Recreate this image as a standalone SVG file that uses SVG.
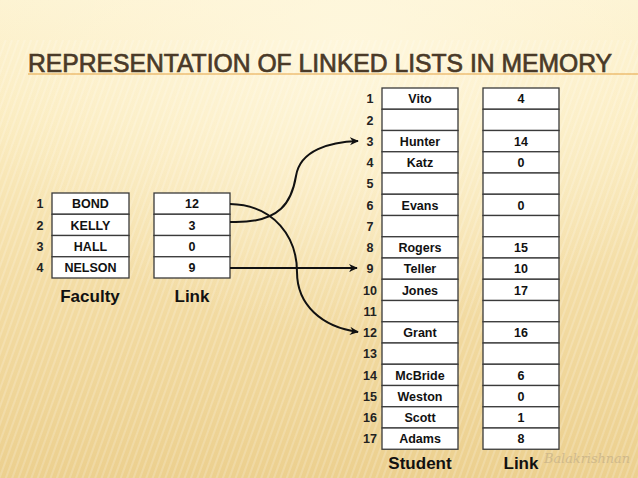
<svg xmlns="http://www.w3.org/2000/svg" width="638" height="478" viewBox="0 0 638 478">
<defs>
<linearGradient id="bg" x1="0" y1="0" x2="0" y2="1">
<stop offset="0" stop-color="#fdf3d2"/>
<stop offset="0.25" stop-color="#fbecc0"/>
<stop offset="0.6" stop-color="#f3dca4"/>
<stop offset="1" stop-color="#ecd08f"/>
</linearGradient>
<radialGradient id="glow" cx="0.55" cy="0.1" r="0.6">
<stop offset="0" stop-color="#fff8e0" stop-opacity="0.8"/>
<stop offset="1" stop-color="#fff8e0" stop-opacity="0"/>
</radialGradient>
<pattern id="stripes" width="6" height="6" patternUnits="userSpaceOnUse" patternTransform="rotate(20)">
<rect width="2" height="6" fill="#ffffff" opacity="0.18"/>
</pattern>
<marker id="arr" viewBox="0 0 10 10" refX="9" refY="5" markerWidth="9" markerHeight="9" orient="auto" markerUnits="userSpaceOnUse">
<path d="M0,0.5 L10,5 L0,9.5 L3,5 Z" fill="#111"/>
</marker>
<style>
.cell{fill:#fff;stroke:#3a3a3a;stroke-width:1.3}
.t{font-family:"Liberation Sans",Arial,sans-serif;font-weight:bold;font-size:12.5px;fill:#111;text-anchor:middle}
.n{font-family:"Liberation Sans",Arial,sans-serif;font-weight:bold;font-size:12.5px;fill:#222;text-anchor:middle}
.lbl{font-family:"Liberation Sans",Arial,sans-serif;font-weight:bold;font-size:17px;fill:#111;text-anchor:middle}
.con{fill:none;stroke:#111;stroke-width:2;marker-end:url(#arr)}
</style>
</defs>
<rect width="638" height="478" fill="url(#bg)"/>
<rect width="638" height="478" fill="url(#glow)"/>
<rect y="40" width="638" height="438" fill="url(#stripes)"/>
<line x1="28" y1="74" x2="638" y2="74" stroke="#e6a445" stroke-width="1.2"/>
<text x="28" y="72" font-family="'Liberation Sans',Arial,sans-serif" font-size="25" fill="#4a3a28" stroke="#4a3a28" stroke-width="0.7" textLength="584" lengthAdjust="spacingAndGlyphs">REPRESENTATION OF LINKED LISTS IN MEMORY</text>

<g id="faculty">
<rect class="cell" x="52" y="193" width="77" height="21.25"/>
<rect class="cell" x="52" y="214.25" width="77" height="21.25"/>
<rect class="cell" x="52" y="235.5" width="77" height="21.25"/>
<rect class="cell" x="52" y="256.75" width="77" height="21.25"/>
<text class="t" x="90.5" y="208.2">BOND</text>
<text class="t" x="90.5" y="229.5">KELLY</text>
<text class="t" x="90.5" y="250.7">HALL</text>
<text class="t" x="90.5" y="272">NELSON</text>
<text class="n" x="40" y="208.2">1</text>
<text class="n" x="40" y="229.5">2</text>
<text class="n" x="40" y="250.7">3</text>
<text class="n" x="40" y="272">4</text>
<text class="lbl" x="90" y="302">Faculty</text>
</g>

<g id="faculty-link">
<rect class="cell" x="154" y="193" width="76" height="21.25"/>
<rect class="cell" x="154" y="214.25" width="76" height="21.25"/>
<rect class="cell" x="154" y="235.5" width="76" height="21.25"/>
<rect class="cell" x="154" y="256.75" width="76" height="21.25"/>
<text class="t" x="192" y="208.2">12</text>
<text class="t" x="192" y="229.5">3</text>
<text class="t" x="192" y="250.7">0</text>
<text class="t" x="192" y="272">9</text>
<text class="lbl" x="192" y="302">Link</text>
</g>

<g id="student">
<rect class="cell" x="382" y="88" width="76" height="21.25"/>
<rect class="cell" x="382" y="109.25" width="76" height="21.25"/>
<rect class="cell" x="382" y="130.5" width="76" height="21.25"/>
<rect class="cell" x="382" y="151.75" width="76" height="21.25"/>
<rect class="cell" x="382" y="173" width="76" height="21.25"/>
<rect class="cell" x="382" y="194.25" width="76" height="21.25"/>
<rect class="cell" x="382" y="215.5" width="76" height="21.25"/>
<rect class="cell" x="382" y="236.75" width="76" height="21.25"/>
<rect class="cell" x="382" y="258" width="76" height="21.25"/>
<rect class="cell" x="382" y="279.25" width="76" height="21.25"/>
<rect class="cell" x="382" y="300.5" width="76" height="21.25"/>
<rect class="cell" x="382" y="321.75" width="76" height="21.25"/>
<rect class="cell" x="382" y="343" width="76" height="21.25"/>
<rect class="cell" x="382" y="364.25" width="76" height="21.25"/>
<rect class="cell" x="382" y="385.5" width="76" height="21.25"/>
<rect class="cell" x="382" y="406.75" width="76" height="21.25"/>
<rect class="cell" x="382" y="428" width="76" height="21.25"/>
<text class="t" x="420" y="103.2">Vito</text>
<text class="t" x="420" y="145.7">Hunter</text>
<text class="t" x="420" y="167">Katz</text>
<text class="t" x="420" y="209.5">Evans</text>
<text class="t" x="420" y="252">Rogers</text>
<text class="t" x="420" y="273.2">Teller</text>
<text class="t" x="420" y="294.5">Jones</text>
<text class="t" x="420" y="337">Grant</text>
<text class="t" x="420" y="379.5">McBride</text>
<text class="t" x="420" y="400.7">Weston</text>
<text class="t" x="420" y="422">Scott</text>
<text class="t" x="420" y="443.2">Adams</text>
<text class="lbl" x="420" y="469">Student</text>
</g>

<g id="student-index">
<text class="n" x="370" y="103.2">1</text>
<text class="n" x="370" y="124.5">2</text>
<text class="n" x="370" y="145.7">3</text>
<text class="n" x="370" y="167">4</text>
<text class="n" x="370" y="188.2">5</text>
<text class="n" x="370" y="209.5">6</text>
<text class="n" x="370" y="230.7">7</text>
<text class="n" x="370" y="252">8</text>
<text class="n" x="370" y="273.2">9</text>
<text class="n" x="370" y="294.5">10</text>
<text class="n" x="370" y="315.7">11</text>
<text class="n" x="370" y="337">12</text>
<text class="n" x="370" y="358.2">13</text>
<text class="n" x="370" y="379.5">14</text>
<text class="n" x="370" y="400.7">15</text>
<text class="n" x="370" y="422">16</text>
<text class="n" x="370" y="443.2">17</text>
</g>

<g id="student-link">
<rect class="cell" x="483" y="88" width="76" height="21.25"/>
<rect class="cell" x="483" y="109.25" width="76" height="21.25"/>
<rect class="cell" x="483" y="130.5" width="76" height="21.25"/>
<rect class="cell" x="483" y="151.75" width="76" height="21.25"/>
<rect class="cell" x="483" y="173" width="76" height="21.25"/>
<rect class="cell" x="483" y="194.25" width="76" height="21.25"/>
<rect class="cell" x="483" y="215.5" width="76" height="21.25"/>
<rect class="cell" x="483" y="236.75" width="76" height="21.25"/>
<rect class="cell" x="483" y="258" width="76" height="21.25"/>
<rect class="cell" x="483" y="279.25" width="76" height="21.25"/>
<rect class="cell" x="483" y="300.5" width="76" height="21.25"/>
<rect class="cell" x="483" y="321.75" width="76" height="21.25"/>
<rect class="cell" x="483" y="343" width="76" height="21.25"/>
<rect class="cell" x="483" y="364.25" width="76" height="21.25"/>
<rect class="cell" x="483" y="385.5" width="76" height="21.25"/>
<rect class="cell" x="483" y="406.75" width="76" height="21.25"/>
<rect class="cell" x="483" y="428" width="76" height="21.25"/>
<text class="t" x="521" y="103.2">4</text>
<text class="t" x="521" y="145.7">14</text>
<text class="t" x="521" y="167">0</text>
<text class="t" x="521" y="209.5">0</text>
<text class="t" x="521" y="252">15</text>
<text class="t" x="521" y="273.2">10</text>
<text class="t" x="521" y="294.5">17</text>
<text class="t" x="521" y="337">16</text>
<text class="t" x="521" y="379.5">6</text>
<text class="t" x="521" y="400.7">0</text>
<text class="t" x="521" y="422">1</text>
<text class="t" x="521" y="443.2">8</text>
<text class="lbl" x="521" y="469">Link</text>
</g>

<g id="connectors">
<path class="con" d="M230,222 C282,224 292,200 296,176 C300,150 330,142 358,141"/>
<path class="con" d="M230,204 C275,205 297,238 297,272 C297,305 322,327 358,332"/>
<path class="con" d="M230,268 L357,268"/>
</g>

<text x="544" y="463" font-family="'DejaVu Serif',serif" font-style="italic" font-size="13" fill="#c9b48a" opacity="0.8" textLength="86" lengthAdjust="spacingAndGlyphs">Balakrishnan</text>
</svg>
